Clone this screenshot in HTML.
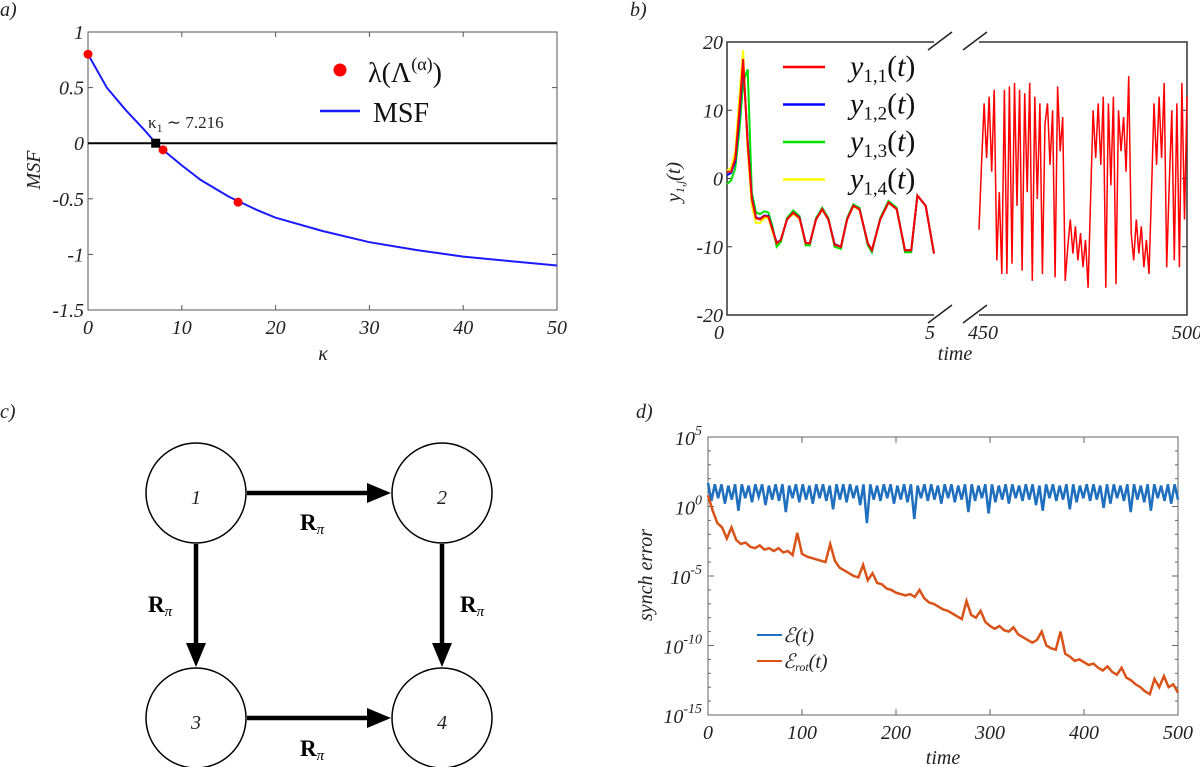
<!DOCTYPE html>
<html><head><meta charset="utf-8"><style>
body{margin:0;background:#fff;}
svg{display:block;font-family:"Liberation Serif",serif;}
.t{font-style:italic;font-size:20px;fill:#222;}
</style></head><body>
<svg id="s" width="1200" height="767" viewBox="0 0 1200 767">
<g id="ga"></g>
<g id="gb"></g>
<g id="gc"></g>
<g id="gd"></g>
</svg>
<script>
// ---- Panel a data
const msfK = [0,2,4,6,7.216,8,10,12,15,18,20,25,30,35,40,45,50];
const msfV = [0.8,0.5,0.3,0.12,0,-0.06,-0.2,-0.33,-0.48,-0.6,-0.67,-0.79,-0.89,-0.96,-1.02,-1.06,-1.1];
const eigK = [0,8,16];
const eigV = [0.8,-0.06,-0.53];
const aXTicks = [0,10,20,30,40,50];
const aYTicks = [1,0.5,0,-0.5,-1,-1.5];
// ---- Panel b data
const bT = [0,0.1,0.2,0.3,0.39,0.5,0.6,0.7,0.8,0.9,1.0,1.1,1.2,1.3,1.45,1.6,1.75,1.9,2.0,2.15,2.3,2.45,2.6,2.75,2.9,3.05,3.2,3.4,3.5,3.7,3.9,4.1,4.3,4.45,4.6,4.8,5.0];
const bY1 = [1,1,3,10,17.5,5,-3,-5.8,-6,-5.5,-5.6,-7.5,-9.5,-9,-6,-5,-5.8,-9.5,-9.5,-6,-4.5,-6,-9.7,-10,-6,-4,-4.5,-9.5,-10.5,-6,-3.5,-4.5,-10.5,-10.5,-2.5,-4,-11];
const bY2 = [0.5,0.8,2.5,9,17,5.5,-2.8,-5.7,-5.9,-5.4,-5.5,-7.4,-9.4,-9,-6,-5,-5.7,-9.4,-9.5,-6,-4.5,-6,-9.6,-10,-6,-4,-4.5,-9.5,-10.5,-6,-3.5,-4.5,-10.5,-10.5,-2.5,-4,-11];
const bY3 = [-0.8,-0.3,1.5,7,14,16,-2,-5,-5.2,-4.8,-5,-7,-10,-9.3,-5.8,-4.7,-5.5,-9.8,-9.8,-5.8,-4.3,-5.8,-10,-10.3,-5.8,-3.8,-4.3,-9.8,-10.8,-5.8,-3.3,-4.3,-10.8,-10.8,-2.5,-4,-11];
const bY4 = [1.2,1.5,4,12,18.8,4,-4,-6.5,-6.5,-5.8,-5.8,-7.8,-9.6,-9,-6,-5.2,-5.9,-9.5,-9.5,-6,-4.6,-6,-9.7,-10,-6,-4.1,-4.6,-9.5,-10.5,-6,-3.6,-4.5,-10.5,-10.5,-2.5,-4,-11];
const cT0 = 450, cT1 = 500;
const cY = [-7.5,2,11,3,12,1,13,-12,-2,-14,13,-14,13.5,-12.5,14,-4,13,-13.5,12.5,-2,14,-15,12,-3,11,-14,8,11,2,10,-14.5,13.5,4,9,-15,-10,-6,-11,-7,-12,-8,-13,-9,-16,-3,10,3,11,2,12,-16,11,-1,12,-15.5,10,4,9,1,15,-8,-12,-6,-11,-7,-13,-9,-14,-2,11,2,12,3,14,-13,-1,10,-12,11,-13,14,-6,12];
const bYTicks = [20,10,0,-10,-20];
// ---- Panel d data (log10 values)
const dT = [0,5,10,15,20,25,30,35,40,45,50,55,60,65,70,75,80,85,90,95,100,105,110,115,120,125,130,135,140,145,150,155,160,165,170,175,180,185,190,195,200,205,210,215,220,225,230,235,240,245,250,255,260,265,270,275,280,285,290,295,300,305,310,315,320,325,330,335,340,345,350,355,360,365,370,375,380,385,390,395,400,405,410,415,420,425,430,435,440,445,450,455,460,465,470,475,480,485,490,495,500];
const dRot = [0.8,-0.3,-1.2,-1.5,-2.3,-1.5,-2.4,-2.7,-2.6,-2.9,-3.0,-2.8,-3.1,-3.0,-3.2,-3.0,-3.3,-3.2,-3.5,-1.9,-3.4,-3.6,-3.7,-3.8,-3.9,-4.0,-2.7,-3.9,-4.4,-4.6,-4.8,-5.0,-5.1,-4.2,-5.3,-4.8,-5.5,-5.6,-5.9,-6.0,-6.2,-6.3,-6.4,-6.3,-6.5,-6.0,-6.6,-6.9,-7.0,-7.2,-7.4,-7.5,-7.7,-7.9,-8.1,-6.8,-7.8,-8.0,-7.5,-8.3,-8.6,-8.8,-8.6,-8.9,-9.0,-8.7,-9.2,-9.4,-9.6,-9.8,-9.6,-9.0,-10.0,-10.2,-10.3,-9.0,-10.6,-10.8,-11.1,-11.0,-11.2,-11.4,-11.3,-11.6,-11.8,-11.5,-11.9,-12.1,-11.6,-12.3,-12.5,-12.8,-13.0,-13.3,-13.5,-12.4,-13.0,-12.2,-13.0,-12.8,-13.4];
const dBlue = [1.7,0.4,1.6,0.6,1.6,0.2,1.5,0.5,1.6,-0.3,1.6,0.6,1.5,0.3,1.6,0.7,1.6,0.1,1.5,0.5,1.6,0.4,1.6,-0.4,1.5,0.6,1.6,0.3,1.6,0.5,1.5,0.2,1.6,0.6,1.6,0.4,1.5,-0.2,1.6,0.5,1.6,0.3,1.6,0.6,1.5,0.1,1.6,-1.2,1.6,0.5,1.5,0.4,1.6,0.6,1.6,0.2,1.5,0.5,1.6,0.3,1.6,-0.9,1.5,0.6,1.6,0.4,1.6,0.5,1.5,0.2,1.6,0.6,1.6,0.3,1.5,0.5,1.6,-0.4,1.6,0.4,1.5,0.6,1.6,-0.5,1.6,0.3,1.5,0.5,1.6,0.2,1.6,0.6,1.5,0.4,1.6,0.5,1.6,0.1,1.5,-0.3,1.6,0.6,1.6,0.4,1.5,0.5,1.6,-0.2,1.6,0.3,1.5,0.6,1.6,0.4,1.6,0.5,1.5,-0.1,1.6,0.2,1.6,0.6,1.5,0.4,1.6,-0.4,1.6,0.5,1.5,0.3,1.6,-0.3,1.6,0.6,1.5,0.4,1.6,0.2,1.6,0.5];
const dYExp = [5,0,-5,-10,-15];
const dXTicks = [0,100,200,300,400,500];

const NS='http://www.w3.org/2000/svg';
function mk(p,tag,attrs,name,txt){const e=document.createElementNS(NS,tag);for(const k in attrs)e.setAttribute(k,attrs[k]);


if(txt!==undefined)e.textContent=txt;p.appendChild(e);return e;}
function poly(xs,ys,fx,fy){return xs.map((x,i)=>fx(x).toFixed(1)+','+fy(ys[i]).toFixed(1)).join(' ');}

// ---- Panel a
(function(){const g=document.getElementById('ga');
const L=88,R=557,T=32,B=310;const fx=k=>L+k/50*(R-L);const fy=v=>T+(1-v)/2.5*(B-T);
mk(g,'text',{x:0,y:16,class:'t','font-size':22},'panel-a-label','a)');
mk(g,'rect',{x:L,y:T,width:R-L,height:B-T,fill:'none',stroke:'#555','stroke-width':1},'plot-frame');
aXTicks.forEach(v=>{mk(g,'line',{x1:fx(v),x2:fx(v),y1:B,y2:B-5,stroke:'#555'},'x-tick');mk(g,'line',{x1:fx(v),x2:fx(v),y1:T,y2:T+5,stroke:'#555'},'x-tick');
mk(g,'text',{x:fx(v),y:B+24,class:'t','text-anchor':'middle'},'x-tick-label',v);});
aYTicks.forEach(v=>{mk(g,'line',{x1:L,x2:L+5,y1:fy(v),y2:fy(v),stroke:'#555'},'y-tick');mk(g,'line',{x1:R,x2:R-5,y1:fy(v),y2:fy(v),stroke:'#555'},'y-tick');
mk(g,'text',{x:L-4,y:fy(v)+7,class:'t','text-anchor':'end'},'y-tick-label',v);});
mk(g,'line',{x1:L,x2:R,y1:fy(0),y2:fy(0),stroke:'#000','stroke-width':2},'zero-line');
mk(g,'polyline',{points:poly(msfK,msfV,fx,fy),fill:'none',stroke:'#1a1aff','stroke-width':2},'msf-curve');
eigK.forEach((k,i)=>mk(g,'circle',{cx:fx(k),cy:fy(eigV[i]),r:4.5,fill:'#f00'},'eigen-point'));
mk(g,'rect',{x:fx(7.216)-4.5,y:fy(0)-4.5,width:9,height:9,fill:'#000'},'kappa1-marker');
const ka=mk(g,'text',{x:148,y:128,'font-size':17,fill:'#222'},'kappa1-annotation');ka.innerHTML='κ<tspan font-size="12" dy="4">1</tspan><tspan dy="-4"> ∼ 7.216</tspan>';
mk(g,'text',{x:40,y:170,class:'t','font-size':22,transform:'rotate(-90 40 170)','text-anchor':'middle'},'y-axis-title','MSF');
mk(g,'text',{x:323,y:360,class:'t','text-anchor':'middle'},'x-axis-title','κ');
mk(g,'circle',{cx:340,cy:70,r:6.5,fill:'#f00'},'legend-marker-eigen');
const le=mk(g,'text',{x:368,y:82,'font-size':28,fill:'#111'},'legend-entry-eigen');le.innerHTML='λ(Λ<tspan font-size="18" dy="-12">(α)</tspan><tspan dy="12">)</tspan>';
mk(g,'line',{x1:320,x2:360,y1:111,y2:111,stroke:'#1a1aff','stroke-width':2.5},'legend-line-msf');
mk(g,'text',{x:373,y:122,'font-size':28,fill:'#111'},'legend-entry-msf','MSF');
})();

// ---- Panel b
(function(){const g=document.getElementById('gb');
const L=727,Bk=934,L2=979,R=1187,T=42,B=315;
const fx=t=>L+t/5*(Bk-L);const fx2=t=>L2+(t-450)/50*(R-L2);const fy=v=>T+(20-v)/40*(B-T);
mk(g,'text',{x:630,y:16,class:'t','font-size':22},'panel-b-label','b)');
mk(g,'path',{d:`M${Bk},${T}H${L}V${B}H${Bk}`,fill:'none',stroke:'#333','stroke-width':1.5},'left-frame');
mk(g,'path',{d:`M${L2},${T}H${R}V${B}H${L2}`,fill:'none',stroke:'#333','stroke-width':1.5},'right-frame');
[[Bk,T],[L2-10,T],[Bk,B],[L2-10,B]].forEach(p=>mk(g,'line',{x1:p[0]-6,y1:p[1]+8,x2:p[0]+18,y2:p[1]-10,stroke:'#222','stroke-width':1.5},'axis-break'));
bYTicks.forEach(v=>{mk(g,'line',{x1:L,x2:L+5,y1:fy(v),y2:fy(v),stroke:'#333'},'y-tick');mk(g,'line',{x1:R,x2:R-5,y1:fy(v),y2:fy(v),stroke:'#333'},'y-tick');
mk(g,'text',{x:L-4,y:fy(v)+7,class:'t','text-anchor':'end'},'y-tick-label',v);});
[[fx(0)-8,'0'],[fx(5)-4,'5'],[fx2(450)+4,'450'],[fx2(500),'500']].forEach(p=>mk(g,'text',{x:p[0],y:B+24,class:'t','text-anchor':'middle'},'x-tick-label',p[1]));
const cols=['#ffff00','#00e000','#0000ff','#ff0000'];[bY4,bY3,bY2,bY1].forEach((s,i)=>mk(g,'polyline',{points:poly(bT,s,fx,fy),fill:'none',stroke:cols[i],'stroke-width':2},'series-y1'+(4-i)));
const cTs=cY.map((_,i)=>cT0+i*(cT1-cT0)/(cY.length-1));
mk(g,'polyline',{points:poly(cTs,cY,fx2,fy),fill:'none',stroke:'#f00','stroke-width':1.5},'series-y11-late');
mk(g,'text',{x:955,y:360,class:'t','font-size':18,'text-anchor':'middle'},'x-axis-title','time');
const yt=mk(g,'text',{x:680,y:182,class:'t','font-size':17,transform:'rotate(-90 680 182)','text-anchor':'middle'},'y-axis-title');yt.innerHTML='y<tspan font-size="12" dy="4">1,j</tspan><tspan dy="-4">(t)</tspan>';
const lc=['#ff0000','#0000ff','#00e000','#ffff00'];
for(let i=0;i<4;i++){const y=67+i*37.5;mk(g,'line',{x1:783,x2:825,y1:y,y2:y,stroke:lc[i],'stroke-width':2.5},'legend-line');
const t=mk(g,'text',{x:850,y:y+9,'font-size':30,'font-style':'italic',fill:'#111'},'legend-entry');
t.innerHTML='y<tspan font-size="19" font-style="normal" dy="6">1,'+(i+1)+'</tspan><tspan dy="-6" font-style="normal">(</tspan>t<tspan font-style="normal">)</tspan>';}
})();

// ---- Panel c
(function(){const g=document.getElementById('gc');
mk(g,'text',{x:0,y:418,class:'t','font-size':22},'panel-c-label','c)');
const C=[[196,493,'1'],[442,493,'2'],[196,718,'3'],[442,718,'4']];
C.forEach(c=>{mk(g,'circle',{cx:c[0],cy:c[1],r:50,fill:'#fff',stroke:'#000','stroke-width':1.5},'node-'+c[2]);
mk(g,'text',{x:c[0],y:c[1]+11,class:'t','font-size':32,'text-anchor':'middle',fill:'#000'},'node-label-'+c[2],c[2]);});
function arrowH(x1,x2,y,n){mk(g,'line',{x1:x1,x2:x2-20,y1:y,y2:y,stroke:'#000','stroke-width':4.5},n);mk(g,'polygon',{points:`${x2},${y} ${x2-24},${y-10} ${x2-24},${y+10}`,fill:'#000'},n+'-head');}
function arrowV(x,y1,y2,n){mk(g,'line',{x1:x,x2:x,y1:y1,y2:y2-20,stroke:'#000','stroke-width':4.5},n);mk(g,'polygon',{points:`${x},${y2} ${x-10},${y2-24} ${x+10},${y2-24}`,fill:'#000'},n+'-head');}
arrowH(247,391,511-18,'edge-1-2');arrowH(247,391,718,'edge-3-4');arrowV(196,544,667,'edge-1-3');arrowV(442,544,667,'edge-2-4');
[[300,530],[300,756],[148,612],[460,612]].forEach(p=>{const t=mk(g,'text',{x:p[0],y:p[1],'font-size':23,'font-weight':'bold',fill:'#000'},'edge-label');t.innerHTML='R<tspan font-size="15" font-weight="normal" font-style="italic" dy="4">π</tspan>';});
})();

// ---- Panel d
(function(){const g=document.getElementById('gd');
const L=708,R=1178,T=437,B=715;const fx=t=>L+t/500*(R-L);const fy=v=>T+(5-v)/20*(B-T);
mk(g,'text',{x:636,y:418,class:'t','font-size':22},'panel-d-label','d)');
mk(g,'rect',{x:L,y:T,width:R-L,height:B-T,fill:'none',stroke:'#666'},'plot-frame');
for(let e=-15;e<=5;e++){const w=(e%5===0)?6:3;mk(g,'line',{x1:L,x2:L+w,y1:fy(e),y2:fy(e),stroke:'#666'},'y-tick');mk(g,'line',{x1:R,x2:R-w,y1:fy(e),y2:fy(e),stroke:'#666'},'y-tick');}
dYExp.forEach(e=>{const t=mk(g,'text',{x:L-6,y:fy(e)+8,class:'t','text-anchor':'end'},'y-tick-label');t.innerHTML='10<tspan font-size="14" dy="-10">'+e+'</tspan>';});
dXTicks.forEach(v=>{mk(g,'line',{x1:fx(v),x2:fx(v),y1:B,y2:B-6,stroke:'#666'},'x-tick');mk(g,'line',{x1:fx(v),x2:fx(v),y1:T,y2:T+6,stroke:'#666'},'x-tick');
mk(g,'text',{x:fx(v),y:B+24,class:'t','text-anchor':'middle'},'x-tick-label',v);});
const bt=dBlue.map((_,i)=>i*500/(dBlue.length-1));
mk(g,'polyline',{points:poly(bt,dBlue,fx,fy),fill:'none',stroke:'#1f6fbf','stroke-width':2.5},'series-E');
mk(g,'polyline',{points:poly(dT,dRot,fx,fy),fill:'none',stroke:'#d95319','stroke-width':2.5},'series-Erot');
mk(g,'text',{x:943,y:764,class:'t','font-size':22,'text-anchor':'middle'},'x-axis-title','time');
mk(g,'text',{x:652,y:575,class:'t','font-size':21,transform:'rotate(-90 652 575)','text-anchor':'middle'},'y-axis-title','synch error');
mk(g,'line',{x1:757,x2:782,y1:635,y2:635,stroke:'#1f6fbf','stroke-width':2},'legend-line-E');
mk(g,'text',{x:783,y:642,class:'t','font-size':19},'legend-entry-E','ℰ(t)');
mk(g,'line',{x1:757,x2:782,y1:661,y2:661,stroke:'#d95319','stroke-width':2},'legend-line-Erot');
const t=mk(g,'text',{x:783,y:668,class:'t','font-size':19},'legend-entry-Erot');t.innerHTML='ℰ<tspan font-size="12" dy="3">rot</tspan><tspan dy="-3">(t)</tspan>';
})();
</script>
</body></html>
